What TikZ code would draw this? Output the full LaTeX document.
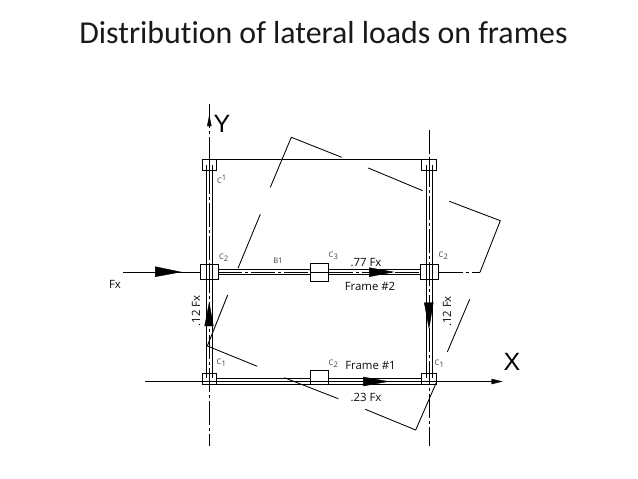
\documentclass[tikz,border=0pt]{standalone}
\usepackage{fontspec}
\setmainfont{Open Sans}
\newfontfamily\titlefont[Ligatures=NoCommon]{Carlito}
\newfontfamily\axisfont{Liberation Sans}
\newcommand\subc[1]{C\raisebox{-2pt}{#1}}
\newcommand\supc[1]{C\raisebox{3pt}{#1}}
\begin{document}
\begin{tikzpicture}[x=1pt,y=-1pt,
  wall/.style={line width=1pt,black},
  axisline/.style={line width=0.85pt,black},
  centre/.style={line width=0.85pt,black,dash pattern=on 24pt off 3pt on 3pt off 3pt},
  skew/.style={line width=0.85pt,black},
  colbox/.style={line width=1pt,draw=black,fill=white},
  head/.style={fill=black,draw=black,line width=0.4pt},
  lab/.style={font=\fontsize{11.4}{13}\selectfont,text=black!95,inner sep=0pt},
  tiny/.style={font=\fontsize{7.6}{9}\selectfont,text=black!75,inner sep=0pt},
  axislab/.style={font=\axisfont\fontsize{25}{28}\selectfont,inner sep=0pt,text=black}]
\useasboundingbox (0,0) rectangle (638,479);
\fill[white] (0,0) rectangle (638,479);

% axes
\draw[axisline] (123,272) -- (200.3,272);
\draw[centre] (438.7,272) -- (480,272);
\draw[axisline] (145.3,381.5) -- (495,381.5);
\draw[centre] (209.3,104) -- (209.3,446);
\draw[centre] (429.3,130) -- (429.3,446);
\draw[wall] (216,159.3) -- (425,159.3);

% walls
\foreach \a/\b in {206.3/212.3,426.3/432.3}{
  \draw[wall] (\a,165) -- (\a,378);
  \draw[wall] (\b,165) -- (\b,378);
}
\draw[wall] (218,269.6) -- (421,269.6);
\draw[wall] (218,274.5) -- (421,274.5);
\draw[centre] (218,272) -- (310,272);
\draw[centre] (329,272) -- (420,272);
\draw[wall] (216,378.6) -- (421,378.6);
\draw[wall] (216,384.3) -- (421,384.3);
\draw[axisline] (216,381.5) -- (421,381.5);

% skewed outline
\draw[skew] (270.3,187.3) -- (291.3,137.3) -- (341.7,157.3);
\draw[skew] (368.3,168) -- (422.7,190.7);
\draw[skew] (449.3,201.3) -- (500.3,220.7) -- (480,272.3);
\draw[skew] (469.7,299.3) -- (447.3,352);
\draw[skew] (436.7,381.7) -- (415.7,430) -- (365.3,409.3);
\draw[skew] (338.3,398.7) -- (284.3,377.7);
\draw[skew] (257.3,366.3) -- (207.3,346) -- (227.7,295);
\draw[skew] (238,268.3) -- (260.3,214.3);

% column boxes
\draw[colbox,fill=none] (202.3,159.3) rectangle (216.3,170.3);
\draw[colbox,fill=none] (421.3,159.3) rectangle (436.7,170.3);
\draw[colbox,fill=none] (200.3,264.3) rectangle (218.7,279.7);
\draw[colbox,fill=none] (420.3,264.3) rectangle (438.7,279.7);
\draw[colbox] (310.3,263.3) rectangle (328.7,281.7);
\draw[axisline] (310.3,272) -- (328.7,272);
\draw[colbox,fill=none] (202.3,373.3) rectangle (216.3,384.3);
\draw[colbox,fill=none] (421.3,373.3) rectangle (436.7,384.3);
\draw[colbox] (310.3,370.3) rectangle (328.7,384.3);
\draw[axisline] (310.3,381.5) -- (328.7,381.5);
\draw[axisline] (209.3,264.3) -- (209.3,279.7);
\draw[axisline] (429.3,264.3) -- (429.3,279.7);
\draw[axisline] (209.3,159.3) -- (209.3,170.3);
\draw[axisline] (429.3,159.3) -- (429.3,170.3);
\draw[axisline] (209.3,373.3) -- (209.3,384.3);
\draw[axisline] (429.3,373.3) -- (429.3,384.3);

% arrowheads
\draw[head] (155.3,266.7) -- (180.7,272) -- (155.3,276.7) -- cycle;
\draw[head] (369.3,267.7) -- (393.3,272) -- (369.3,276.7) -- cycle;
\draw[head] (363.3,377) -- (388.3,381.5) -- (363.3,386) -- cycle;
\draw[head] (204.7,326) -- (209.2,302.7) -- (213.3,326) -- cycle;
\draw[head] (424.3,302.7) -- (429,328.3) -- (433.3,302.7) -- cycle;
\draw[head] (207.3,126) -- (209.3,115.7) -- (211.3,126) -- cycle;
\draw[head] (491.7,379) -- (501.7,381.5) -- (491.7,384) -- cycle;

% texts
\node[font=\titlefont\fontsize{31.85}{34}\selectfont,text=black!90,inner sep=0pt] (title) at (323.5,33) {Distribution of lateral loads on frames};
\node[axislab] (ylab) at (222,124) {Y};
\node[axislab] (xlab) at (512,362) {X};
\node[lab] (fx) at (115,284) {Fx};
\node[lab] (f77) at (366,262.5) {.77 Fx};
\node[lab] (f23) at (366,397) {.23 Fx};
\node[lab] (fr2) at (370,286) {Frame \#2};
\node[lab] (fr1) at (370.5,365) {Frame \#1};
\node[lab,rotate=90] (f12l) at (196,311) {.12 Fx};
\node[lab,rotate=90] (f12r) at (447,311.5) {.12 Fx};
\node[tiny] (c1t) at (221.7,179) {\supc{1}};
\node[tiny] (c2l) at (223.7,258) {\subc{2}};
\node[tiny] (b1) at (278,261) {B1};
\node[tiny] (c3) at (333.3,256) {\subc{3}};
\node[tiny] (c2r) at (443.3,255.3) {\subc{2}};
\node[tiny] (c1l) at (221.3,363) {\subc{1}};
\node[tiny] (c2b) at (333.3,363.3) {\subc{2}};
\node[tiny] (c1r) at (439.3,363.3) {\subc{1}};
\end{tikzpicture}
\end{document}
